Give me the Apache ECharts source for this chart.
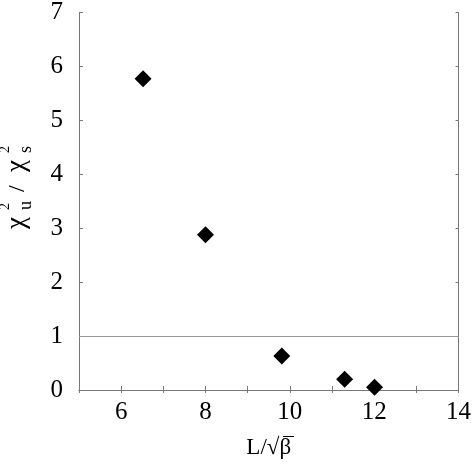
<!DOCTYPE html>
<html>
<head>
<meta charset="utf-8">
<script src="https://cdn.jsdelivr.net/npm/echarts@6/dist/echarts.min.js"></script>
<style>
  html, body { margin: 0; padding: 0; background: #fff; }
  #main { width: 474px; height: 466px; }
</style>
</head>
<body>
<div id="main"></div>
<script>
// data
var xValues = [6.52, 8.0, 9.81, 11.3, 12.01];
var yValues = [5.77, 2.88, 0.63, 0.2, 0.05];
var refLine = 1;
var xTickLabels = [6, 8, 10, 12, 14];

var points = xValues.map(function (x, i) { return [x, yValues[i]]; });

var serif = "Liberation Serif";
var axisColor = "#777";

function t(text, x, y, size) {
  return {
    type: "text", x: x, y: y,
    style: { text: text, fontFamily: serif, fontSize: size, fill: "#000", align: "left", verticalAlign: "middle" }
  };
}

var chart = echarts.init(document.getElementById("main"));

var option = {
  animation: false,
  backgroundColor: "#fff",
  grid: { left: 79, right: 13, top: 11, bottom: 76 },
  xAxis: [
    {
      type: "value",
      min: 5,
      max: 14,
      interval: 1,
      name: "L/\u221Aβ",
      nameLocation: "middle",
      nameGap: 46,
      nameTextStyle: { fontFamily: serif, fontSize: 23, color: "#000" },
      axisLine: { lineStyle: { color: axisColor, width: 1 } },
      axisTick: { inside: true, length: 4, lineStyle: { color: axisColor } },
      axisLabel: {
        margin: 10,
        fontFamily: serif,
        fontSize: 25,
        color: "#000",
        formatter: function (v) {
          return xTickLabels.indexOf(v) >= 0 ? String(v) : "";
        }
      },
      splitLine: { show: false }
    },
    {
      type: "value",
      position: "top",
      min: 5,
      max: 14,
      interval: 1,
      axisLine: { show: true, lineStyle: { color: axisColor, width: 1 } },
      axisTick: { show: true, inside: true, length: 3, lineStyle: { color: axisColor } },
      axisLabel: { show: false },
      splitLine: { show: false }
    }
  ],
  yAxis: [
    {
      type: "value",
      min: 0,
      max: 7,
      interval: 1,
      axisLine: { show: true, lineStyle: { color: axisColor, width: 1 } },
      axisTick: { show: true, inside: true, length: 4, lineStyle: { color: axisColor } },
      axisLabel: { margin: 16, fontFamily: serif, fontSize: 25, color: "#000" },
      splitLine: { show: false }
    },
    {
      type: "value",
      position: "right",
      min: 0,
      max: 7,
      interval: 1,
      axisLine: { show: true, lineStyle: { color: axisColor, width: 1 } },
      axisTick: { show: true, inside: true, length: 3, lineStyle: { color: axisColor } },
      axisLabel: { show: false },
      splitLine: { show: false }
    }
  ],
  graphic: [
    {
      // y axis title: chi^2_u / chi^2_s, reading bottom to top
      type: "group",
      x: 0,
      y: 185,
      rotation: Math.PI / 2,
      children: [
        t("χ", -44, 17, 27),
        t("2", -25, 5, 14),
        t("u", -25, 26, 18),
        t("/", -7, 18, 24),
        t("χ", 13, 17, 27),
        t("2", 32, 5, 14),
        t("s", 32, 26, 18)
      ]
    },
    {
      // vinculum of the square root in the x axis title
      type: "line",
      shape: { x1: 283, y1: 436.5, x2: 294, y2: 436.5 },
      style: { stroke: "#000", lineWidth: 1 }
    }
  ],
  series: [
    {
      type: "scatter",
      xAxisIndex: 0,
      yAxisIndex: 0,
      symbol: "diamond",
      symbolSize: 17,
      itemStyle: { color: "#000", opacity: 1 },
      data: points,
      markLine: {
        silent: true,
        symbol: "none",
        label: { show: false },
        lineStyle: { color: "#999", width: 1, type: "solid" },
        data: [{ yAxis: refLine }]
      }
    }
  ]
};

chart.setOption(option);
</script>
</body>
</html>
